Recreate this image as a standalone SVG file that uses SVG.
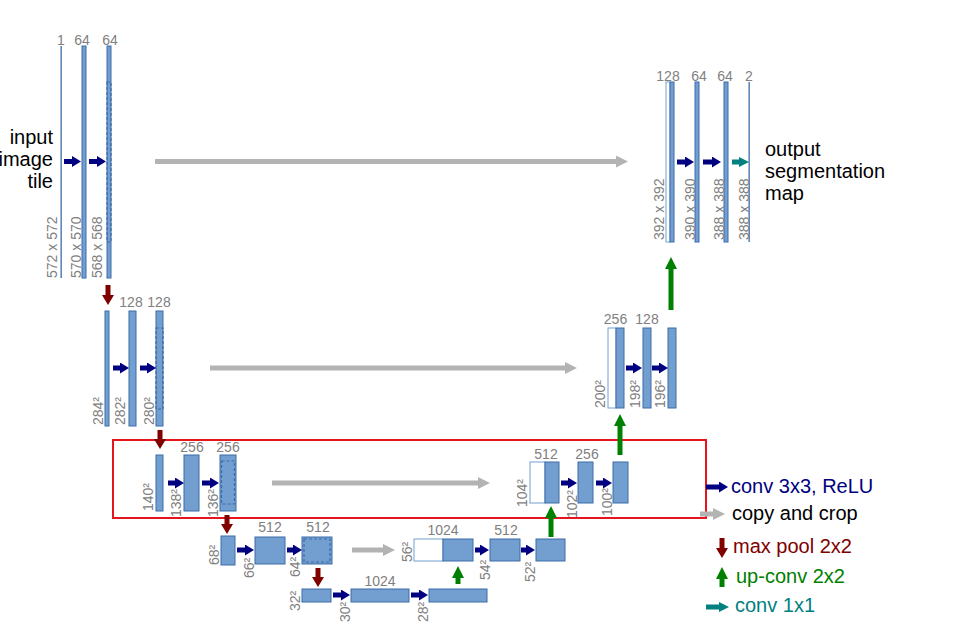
<svg xmlns="http://www.w3.org/2000/svg" width="968" height="627" viewBox="0 0 968 627">
<style>
.bar{fill:#729fcf;stroke:#3c6ca8;stroke-width:1}
.wbar{fill:#ffffff;stroke:#729fcf;stroke-width:1}
.dash{fill:none;stroke:#3c6ca8;stroke-width:1.2;stroke-dasharray:3,2}
.thin{fill:#3c6ca8;stroke:none}
.num{font-family:"Liberation Sans",Arial,sans-serif;font-size:14px;fill:#808080;text-anchor:middle}
.vlab{font-family:"Liberation Sans",Arial,sans-serif;font-size:14px;fill:#808080;text-anchor:start}
.big{font-family:"Liberation Sans",Arial,sans-serif;font-size:20px}
.conv{stroke:#000080;stroke-width:5;fill:none;marker-end:url(#mConv)}
.copy{stroke:#b3b3b3;stroke-width:5;fill:none;marker-end:url(#mCopy)}
.pool{stroke:#800000;stroke-width:5;fill:none;marker-end:url(#mPool)}
.up{stroke:#008000;stroke-width:5;fill:none;marker-end:url(#mUp)}
.c11{stroke:#008080;stroke-width:5;fill:none;marker-end:url(#mC11)}
</style>
<defs>
<marker id="mConv" markerUnits="userSpaceOnUse" markerWidth="9" markerHeight="11" refX="0" refY="5.5" orient="auto"><path d="M0,0 L9,5.5 L0,11 z" fill="#000080"/></marker>
<marker id="mCopy" markerUnits="userSpaceOnUse" markerWidth="12" markerHeight="12" refX="0" refY="6" orient="auto"><path d="M0,0 L12,6 L0,12 z" fill="#b3b3b3"/></marker>
<marker id="mPool" markerUnits="userSpaceOnUse" markerWidth="10" markerHeight="12" refX="0" refY="6" orient="auto"><path d="M0,0 L10,6 L0,12 z" fill="#800000"/></marker>
<marker id="mUp" markerUnits="userSpaceOnUse" markerWidth="12" markerHeight="12" refX="0" refY="6" orient="auto"><path d="M0,0 L12,6 L0,12 z" fill="#008000"/></marker>
<marker id="mC11" markerUnits="userSpaceOnUse" markerWidth="10" markerHeight="10" refX="0" refY="5" orient="auto"><path d="M0,0 L10,5 L0,10 z" fill="#008080"/></marker>
</defs>
<rect width="968" height="627" fill="#ffffff"/>

<!-- highlight box -->
<rect id="highlight" x="113" y="440" width="593" height="78" fill="none" stroke="#e8141c" stroke-width="2"/>

<!-- Level 1 encoder -->
<g id="enc1">
<rect class="thin" x="60.5" y="46" width="1.3" height="232"/>
<rect class="bar" x="82" y="46" width="4" height="232"/>
<rect class="bar" x="107" y="46" width="4" height="232"/>
<rect class="dash" x="107" y="82" width="4" height="160"/>
<text class="num" x="61" y="45">1</text>
<text class="num" x="82" y="45">64</text>
<text class="num" x="110" y="45">64</text>
<text class="vlab" transform="translate(57,278) rotate(-90)">572 x 572</text>
<text class="vlab" transform="translate(81,278) rotate(-90)">570 x 570</text>
<text class="vlab" transform="translate(102,278) rotate(-90)">568 x 568</text>
<text class="big" text-anchor="end" fill="#000000"><tspan x="53" y="144">input</tspan><tspan x="53" y="166">image</tspan><tspan x="53" y="188">tile</tspan></text>
</g>

<!-- Level 2 encoder -->
<g id="enc2">
<rect class="bar" x="105" y="311" width="4" height="115"/>
<rect class="bar" x="129" y="311" width="7" height="115"/>
<rect class="bar" x="156" y="311" width="7" height="115"/>
<rect class="dash" x="156" y="328" width="7" height="81"/>
<text class="num" x="131" y="307">128</text>
<text class="num" x="159" y="307">128</text>
<text class="vlab" transform="translate(103,425) rotate(-90)">284²</text>
<text class="vlab" transform="translate(125,425) rotate(-90)">282²</text>
<text class="vlab" transform="translate(154,425) rotate(-90)">280²</text>
</g>

<!-- Level 3 encoder -->
<g id="enc3">
<rect class="bar" x="156" y="455" width="7" height="56"/>
<rect class="bar" x="184" y="455" width="15" height="56"/>
<rect class="bar" x="220" y="455" width="16" height="56"/>
<rect class="dash" x="221.5" y="461" width="13" height="43"/>
<text class="num" x="192" y="452">256</text>
<text class="num" x="228" y="452">256</text>
<text class="vlab" transform="translate(153,511) rotate(-90)">140²</text>
<text class="vlab" transform="translate(181,517) rotate(-90)">138²</text>
<text class="vlab" transform="translate(218,517) rotate(-90)">136²</text>
</g>

<!-- Level 4 encoder -->
<g id="enc4">
<rect class="bar" x="221" y="536" width="14" height="29"/>
<rect class="bar" x="255" y="537" width="30" height="27"/>
<rect class="bar" x="302" y="537" width="30" height="27"/>
<rect class="dash" x="304" y="539" width="26" height="23"/>
<text class="num" x="270" y="532">512</text>
<text class="num" x="318" y="532">512</text>
<text class="vlab" transform="translate(219,565) rotate(-90)">68²</text>
<text class="vlab" transform="translate(254,578) rotate(-90)">66²</text>
<text class="vlab" transform="translate(300,577) rotate(-90)">64²</text>
</g>

<!-- Level 5 bottleneck -->
<g id="bottleneck">
<rect class="bar" x="302" y="589" width="29" height="13"/>
<rect class="bar" x="351" y="589" width="58" height="13"/>
<rect class="bar" x="429" y="589" width="58" height="13"/>
<text class="num" x="380" y="586">1024</text>
<text class="vlab" transform="translate(300,611) rotate(-90)">32²</text>
<text class="vlab" transform="translate(350,622) rotate(-90)">30²</text>
<text class="vlab" transform="translate(428,622) rotate(-90)">28²</text>
</g>

<!-- Level 4 decoder -->
<g id="dec4">
<rect class="wbar" x="414" y="539" width="29" height="22"/>
<rect class="bar" x="443" y="539" width="30" height="22"/>
<rect class="bar" x="490" y="539" width="30" height="22"/>
<rect class="bar" x="536" y="539" width="29" height="22"/>
<text class="num" x="443" y="535">1024</text>
<text class="num" x="506" y="535">512</text>
<text class="vlab" transform="translate(412,562) rotate(-90)">56²</text>
<text class="vlab" transform="translate(490,580) rotate(-90)">54²</text>
<text class="vlab" transform="translate(535,582) rotate(-90)">52²</text>
</g>

<!-- Level 3 decoder -->
<g id="dec3">
<rect class="wbar" x="530" y="462" width="15" height="41"/>
<rect class="bar" x="545" y="462" width="14" height="41"/>
<rect class="bar" x="578" y="462" width="15" height="41"/>
<rect class="bar" x="613" y="462" width="15" height="41"/>
<text class="num" x="546" y="459">512</text>
<text class="num" x="587" y="459">256</text>
<text class="vlab" transform="translate(527,507) rotate(-90)">104²</text>
<text class="vlab" transform="translate(577,518) rotate(-90)">102²</text>
<text class="vlab" transform="translate(612,516) rotate(-90)">100²</text>
</g>

<!-- Level 2 decoder -->
<g id="dec2">
<rect class="wbar" x="608" y="328" width="8" height="80"/>
<rect class="bar" x="616" y="328" width="8" height="80"/>
<rect class="bar" x="643" y="328" width="8" height="80"/>
<rect class="bar" x="668" y="328" width="8" height="80"/>
<text class="num" x="615.5" y="324">256</text>
<text class="num" x="647" y="324">128</text>
<text class="vlab" transform="translate(605,408) rotate(-90)">200²</text>
<text class="vlab" transform="translate(640,408) rotate(-90)">198²</text>
<text class="vlab" transform="translate(665,408) rotate(-90)">196²</text>
</g>

<!-- Level 1 decoder -->
<g id="dec1">
<rect class="wbar" x="666" y="82" width="4" height="160"/>
<rect class="bar" x="670" y="82" width="4" height="160"/>
<rect class="bar" x="695" y="82" width="4" height="160"/>
<rect class="bar" x="724" y="82" width="4" height="160"/>
<rect class="thin" x="748.5" y="82" width="1.3" height="160"/>
<text class="num" x="668" y="81">128</text>
<text class="num" x="699" y="81">64</text>
<text class="num" x="725" y="81">64</text>
<text class="num" x="749" y="81">2</text>
<text class="vlab" transform="translate(664,240) rotate(-90)">392 x 392</text>
<text class="vlab" transform="translate(695,240) rotate(-90)">390 x 390</text>
<text class="vlab" transform="translate(724,240) rotate(-90)">388 x 388</text>
<text class="vlab" transform="translate(749,240) rotate(-90)">388 x 388</text>
<text class="big" fill="#000000"><tspan x="765" y="156">output</tspan><tspan x="765" y="178">segmentation</tspan><tspan x="765" y="200">map</tspan></text>
</g>

<!-- Connectors -->
<g id="connectors">
<!-- conv 3x3 -->
<line class="conv" x1="64" y1="161.5" x2="72" y2="161.5"/>
<line class="conv" x1="89" y1="161.5" x2="97" y2="161.5"/>
<line class="conv" x1="677" y1="162" x2="685" y2="162"/>
<line class="conv" x1="703" y1="162" x2="712" y2="162"/>
<line class="c11" x1="732" y1="162" x2="739" y2="162"/>
<line class="conv" x1="113" y1="368" x2="120" y2="368"/>
<line class="conv" x1="140" y1="368" x2="147" y2="368"/>
<line class="conv" x1="626" y1="368" x2="633" y2="368"/>
<line class="conv" x1="652" y1="368" x2="659" y2="368"/>
<line class="conv" x1="168" y1="483" x2="175" y2="483"/>
<line class="conv" x1="202" y1="483" x2="210" y2="483"/>
<line class="conv" x1="561" y1="483" x2="568" y2="483"/>
<line class="conv" x1="596" y1="483" x2="603" y2="483"/>
<line class="conv" x1="237" y1="550" x2="245" y2="550"/>
<line class="conv" x1="287" y1="550" x2="293" y2="550"/>
<line class="conv" x1="475" y1="550" x2="480" y2="550"/>
<line class="conv" x1="521" y1="550" x2="526" y2="550"/>
<line class="conv" x1="333" y1="595" x2="341" y2="595"/>
<line class="conv" x1="411" y1="595" x2="419" y2="595"/>
<!-- copy and crop -->
<line class="copy" x1="155" y1="161.5" x2="616" y2="161.5"/>
<line class="copy" x1="210" y1="368" x2="565" y2="368"/>
<line class="copy" x1="272" y1="483" x2="478" y2="483"/>
<line class="copy" x1="352" y1="550" x2="383" y2="550"/>
<!-- max pool -->
<line class="pool" x1="108" y1="285" x2="108" y2="295"/>
<line class="pool" x1="160" y1="430" x2="160" y2="439"/>
<line class="pool" x1="227" y1="515" x2="227" y2="524"/>
<line class="pool" x1="318" y1="568" x2="318" y2="577"/>
<!-- up-conv -->
<line class="up" x1="458" y1="584" x2="458" y2="578"/>
<line class="up" x1="551" y1="537" x2="551" y2="518"/>
<line class="up" x1="620" y1="455" x2="620" y2="426"/>
<line class="up" x1="671" y1="310" x2="671" y2="269"/>
</g>

<!-- Legend -->
<g id="legend">
<line class="conv" x1="706" y1="487" x2="719" y2="487"/>
<text class="big" x="731" y="493" fill="#000080">conv 3x3, ReLU</text>
<line class="copy" x1="700" y1="514" x2="713" y2="514"/>
<text class="big" x="732" y="520" fill="#000000">copy and crop</text>
<line class="pool" x1="722" y1="538" x2="722" y2="548"/>
<text class="big" x="733" y="553" fill="#800000">max pool 2x2</text>
<line class="up" x1="722" y1="587" x2="722" y2="579"/>
<text class="big" x="736" y="583" fill="#008000">up-conv 2x2</text>
<line class="c11" x1="706" y1="607" x2="719" y2="607"/>
<text class="big" x="735" y="612" fill="#008080">conv 1x1</text>
</g>
</svg>
